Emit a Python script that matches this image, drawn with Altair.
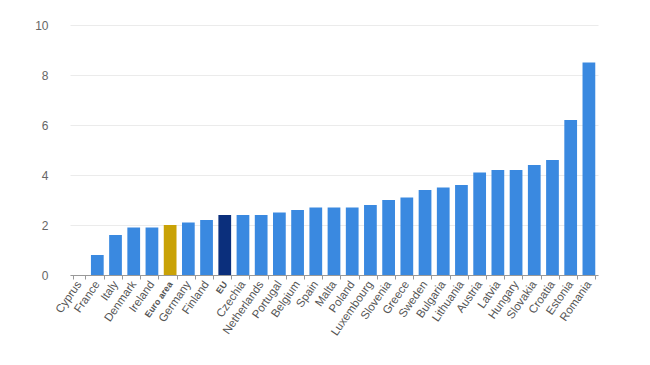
import altair as alt
import pandas as pd

countries = ["Cyprus", "France", "Italy", "Denmark", "Ireland", "Euro area", "Germany",
             "Finland", "EU", "Czechia", "Netherlands", "Portugal", "Belgium", "Spain",
             "Malta", "Poland", "Luxembourg", "Slovenia", "Greece", "Sweden", "Bulgaria",
             "Lithuania", "Austria", "Latvia", "Hungary", "Slovakia", "Croatia", "Estonia",
             "Romania"]
values = [0.0, 0.8, 1.6, 1.9, 1.9, 2.0, 2.1, 2.2, 2.4, 2.4, 2.4, 2.5, 2.6, 2.7, 2.7, 2.7,
          2.8, 3.0, 3.1, 3.4, 3.5, 3.6, 4.1, 4.2, 4.2, 4.4, 4.6, 6.2, 8.5]
groups = ["country"] * len(countries)
groups[countries.index("Euro area")] = "euro"
groups[countries.index("EU")] = "eu"

df = pd.DataFrame({"country": countries, "value": values, "group": groups})

chart = alt.Chart(df).mark_bar().encode(
    x=alt.X("country:N", sort=countries, title=None,
            scale=alt.Scale(paddingInner=0.3, paddingOuter=0.15),
            axis=alt.Axis(labelAngle=-55, labelAlign="right", labelBaseline="middle",
                          labelColor="#555555", labelFont="Liberation Sans",
                          labelFontSize=alt.ExprRef("datum.value == 'EU' || datum.value == 'Euro area' ? 9 : 11.5"),
                          labelFontWeight=alt.ExprRef("datum.value == 'EU' || datum.value == 'Euro area' ? 'bold' : 'normal'"),
                          tickBand="extent", tickColor="#999999", tickSize=4,
                          domainColor="#999999", labelPadding=3)),
    y=alt.Y("value:Q", title=None,
            scale=alt.Scale(domain=[0, 10]),
            axis=alt.Axis(values=[0, 2, 4, 6, 8, 10], ticks=False, domain=False,
                          gridColor="#ebebeb", labelColor="#666666",
                          labelFont="Liberation Sans", labelFontSize=12, labelPadding=22)),
    color=alt.Color("group:N", legend=None,
                    scale=alt.Scale(domain=["country", "euro", "eu"],
                                    range=["#3a89e0", "#c9a206", "#0b2f7c"])),
).properties(
    width=528, height=250,
    autosize=alt.AutoSizeParams(type="none"),
    padding={"left": 62, "top": 17, "right": 36, "bottom": 82},
).configure_view(stroke=None)

chart.save("out.html", embed_options={"renderer": "svg", "actions": False})
